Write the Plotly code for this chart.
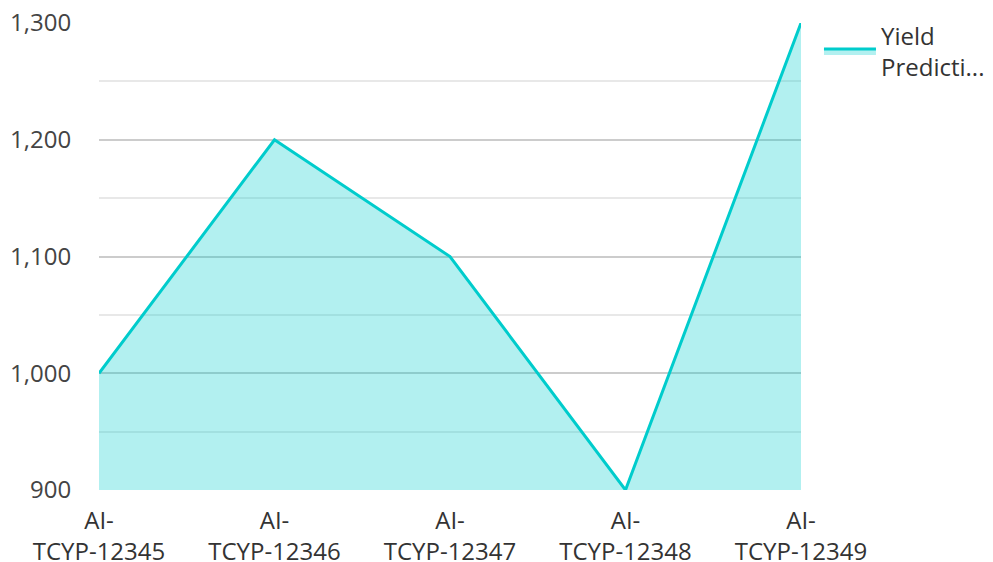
import plotly.graph_objects as go

categories = ["AI-<br>TCYP-12345", "AI-<br>TCYP-12346", "AI-<br>TCYP-12347", "AI-<br>TCYP-12348", "AI-<br>TCYP-12349"]
yield_values = [1000, 1200, 1100, 900, 1300]
y_ticks = [900, 1000, 1100, 1200, 1300]
y_tick_labels = ["900", "1,000", "1,100", "1,200", "1,300"]

FONT = "Open Sans, Noto Sans, sans-serif"

fig = go.Figure()
fig.add_trace(go.Scatter(
    x=categories, y=yield_values, mode="lines", name="Yield<br>Predicti...",
    line=dict(color="#00CCCC", width=3),
    fill="tozeroy", fillcolor="rgba(0,204,204,0.3)",
))

fig.update_layout(
    width=993, height=562,
    margin=dict(l=99, r=192, t=23, b=72, autoexpand=False),
    paper_bgcolor="white", plot_bgcolor="white",
    font=dict(family=FONT, size=24, color="#333333"),
    showlegend=True,
    legend=dict(x=1.0256, xanchor="left", y=1.021, yanchor="top", itemwidth=52,
                font=dict(size=24, color="#333333"), bgcolor="rgba(0,0,0,0)",
                tracegroupgap=0),
    xaxis=dict(range=[0, 4], showgrid=False, zeroline=False, showline=False,
               automargin=False,
               ticks="outside", ticklen=9, tickcolor="rgba(0,0,0,0)",
               tickfont=dict(size=24, color="#333333")),
    yaxis=dict(range=[900, 1300], tickvals=y_ticks, ticktext=y_tick_labels,
               automargin=False,
               showgrid=True, gridcolor="#CCCCCC", gridwidth=1.5, zeroline=False,
               showline=False, ticks="outside", ticklen=22, tickcolor="rgba(0,0,0,0)",
               tickfont=dict(size=24, color="#444444"),
               minor=dict(dtick=50, tick0=900, showgrid=True, gridcolor="#E8E8E8", gridwidth=1.5)),
)

fig.write_html("out.html", config={"displayModeBar": False},
               post_script="document.body.style.margin='0';document.body.style.overflow='hidden';")
